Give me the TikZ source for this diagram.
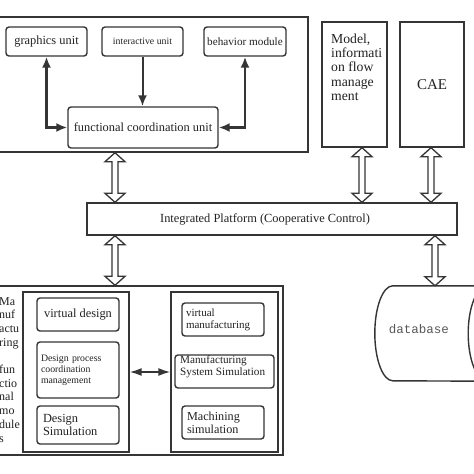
\documentclass[tikz,border=0pt]{standalone}
\usepackage{fontspec}
\setmainfont{Liberation Serif}
\newfontfamily\dbfont{Liberation Mono}
\usetikzlibrary{arrows.meta,calc}
\definecolor{lc}{HTML}{353535}
\definecolor{tc}{HTML}{222222}
\newcommand\fs[2]{\fontsize{#1}{#2}\selectfont}
\newcommand\hollowdbl[3]{%
  \draw[hollow] let \p1=(#2.south), \p2=(#3.north) in
  (#1pt,\y1) -- (#1pt+10pt,\y1-9pt) -- (#1pt+3pt,\y1-9pt) -- (#1pt+3pt,\y2+9pt)
  -- (#1pt+10pt,\y2+9pt) -- (#1pt,\y2) -- (#1pt-10pt,\y2+9pt) -- (#1pt-3pt,\y2+9pt)
  -- (#1pt-3pt,\y1-9pt) -- (#1pt-10pt,\y1-9pt) -- cycle;}
\tikzset{
  box/.style={draw=lc, line width=1.4pt, inner sep=0pt, text=tc},
  rbox/.style={box, rounded corners=3pt},
  txt/.style={inner sep=0pt, text=tc},
  hollow/.style={draw=lc, line width=1.3pt, fill=white, line join=miter},
  tarrow/.style={draw=lc, line width=2.2pt, arrows={Latex[length=11pt,width=9pt]-Latex[length=11pt,width=9pt]}},
  tarrowone/.style={draw=lc, line width=2pt, arrows={-Latex[length=11pt,width=9pt]}},
  marrow/.style={draw=lc, line width=1.7pt, arrows={Latex[length=12pt,width=8pt]-Latex[length=12pt,width=8pt]}},
}
\begin{document}
\begin{tikzpicture}[x=1pt,y=-1pt]
\useasboundingbox (0,0) rectangle (474,474);
\clip (0,0) rectangle (474,474);
\fill[white] (0,0) rectangle (474,474);
% top block
\node[box, minimum width=313pt, minimum height=135pt] (top) at (151.5,84.5) {};
\node[rbox, minimum width=81pt, minimum height=29pt, font=\fs{12.4}{14}] (gu) at (46.5,41.5) {graphics unit};
\node[rbox, minimum width=81pt, minimum height=29pt, font=\fs{9.8}{12}] (iu) at (142.5,41.5) {interactive unit};
\node[rbox, minimum width=82pt, minimum height=29pt, font=\fs{11.2}{13}] (bm) at (245,41.5) {behavior module};
\node[rbox, minimum width=150pt, minimum height=41pt, font=\fs{12.4}{14}] (fc) at (143,127.5) {functional coordination unit};
\draw[tarrow] (gu.south) |- (fc.west);
\draw[tarrowone] (iu.south) -- (iu.south |- fc.north);
\draw[tarrow] (bm.south) |- (fc.east);
% right top boxes
\node[box, minimum width=65pt, minimum height=125pt] (model) at (354.5,84.5) {};
\node[txt, anchor=north west, font=\fs{13.7}{14.3}, align=left] (modelt) at (331,33.6) {Model,\\informati\\on flow\\manage\\ment};
\node[box, minimum width=64pt, minimum height=125pt, font=\fs{15}{18}] (cae) at (432,84.5) {CAE};
% platform
\node[box, minimum width=370pt, minimum height=32pt] (plat) at (272,219) {};
\node[txt, font=\fs{12.4}{14}] (platt) at (265,219.5) {Integrated Platform (Cooperative Control)};
% lower block
\node[box, minimum width=288pt, minimum height=169pt] (low) at (139,370.5) {};
\node[txt, anchor=north west, font=\fs{12}{13.7}, align=left] (mfm) at (-1,297) {Ma\\nuf\\actu\\ring\\[13.7pt]fun\\ctio\\nal\\mo\\dule\\s};
\node[box, minimum width=106pt, minimum height=160pt] (inL) at (76,372) {};
\node[rbox, minimum width=82pt, minimum height=33pt, font=\fs{12.4}{14}] (vd) at (78,314.5) {virtual design};
\node[rbox, minimum width=82pt, minimum height=56pt, font=\fs{9.8}{11}, text width=74pt, align=left] (dp) at (78,370) {Design process\\coordination\\management};
\node[rbox, minimum width=82pt, minimum height=38pt, font=\fs{12.4}{13.5}, text width=70pt, align=left] (ds) at (78,425) {Design\\Simulation};
\node[box, minimum width=107pt, minimum height=160pt] (inR) at (224.5,372) {};
\node[rbox, minimum width=82pt, minimum height=33pt, font=\fs{11}{12}, text width=74pt, align=left] (vm) at (223,319.5) {virtual\\manufacturing};
\node[rbox, minimum width=99pt, minimum height=33pt] (mss) at (224.5,371.5) {};
\node[txt, anchor=north west, font=\fs{11.2}{12}, align=left] (msst) at (180,355.4) {Manufacturing\\System Simulation};
\node[rbox, minimum width=82pt, minimum height=33pt, font=\fs{12.2}{13}, text width=72pt, align=left] (ms) at (223,422.5) {Machining\\simulation};
\draw[marrow] (inL.east) -- (inR.west);
% database cylinder
\node[inner sep=0pt, minimum width=94pt, minimum height=95pt] (dbody) at (440,333.5) {};
\draw[draw=lc, line width=1.4pt] (dbody.north east) -- (dbody.north west)
  arc[start angle=90, end angle=270, x radius=18pt, y radius=47.5pt] -- (dbody.south east);
\draw[draw=lc, line width=1.4pt] (dbody.east) ellipse [x radius=19pt, y radius=47.5pt];
\node[txt, font=\dbfont\fs{12.5}{14}, text=black!65] (dbt) at (419,329) {database};
% hollow double arrows
\hollowdbl{115}{top}{plat}
\hollowdbl{362}{model}{plat}
\hollowdbl{431}{cae}{plat}
\hollowdbl{115}{plat}{low}
\hollowdbl{435}{plat}{dbody}
\end{tikzpicture}
\end{document}
